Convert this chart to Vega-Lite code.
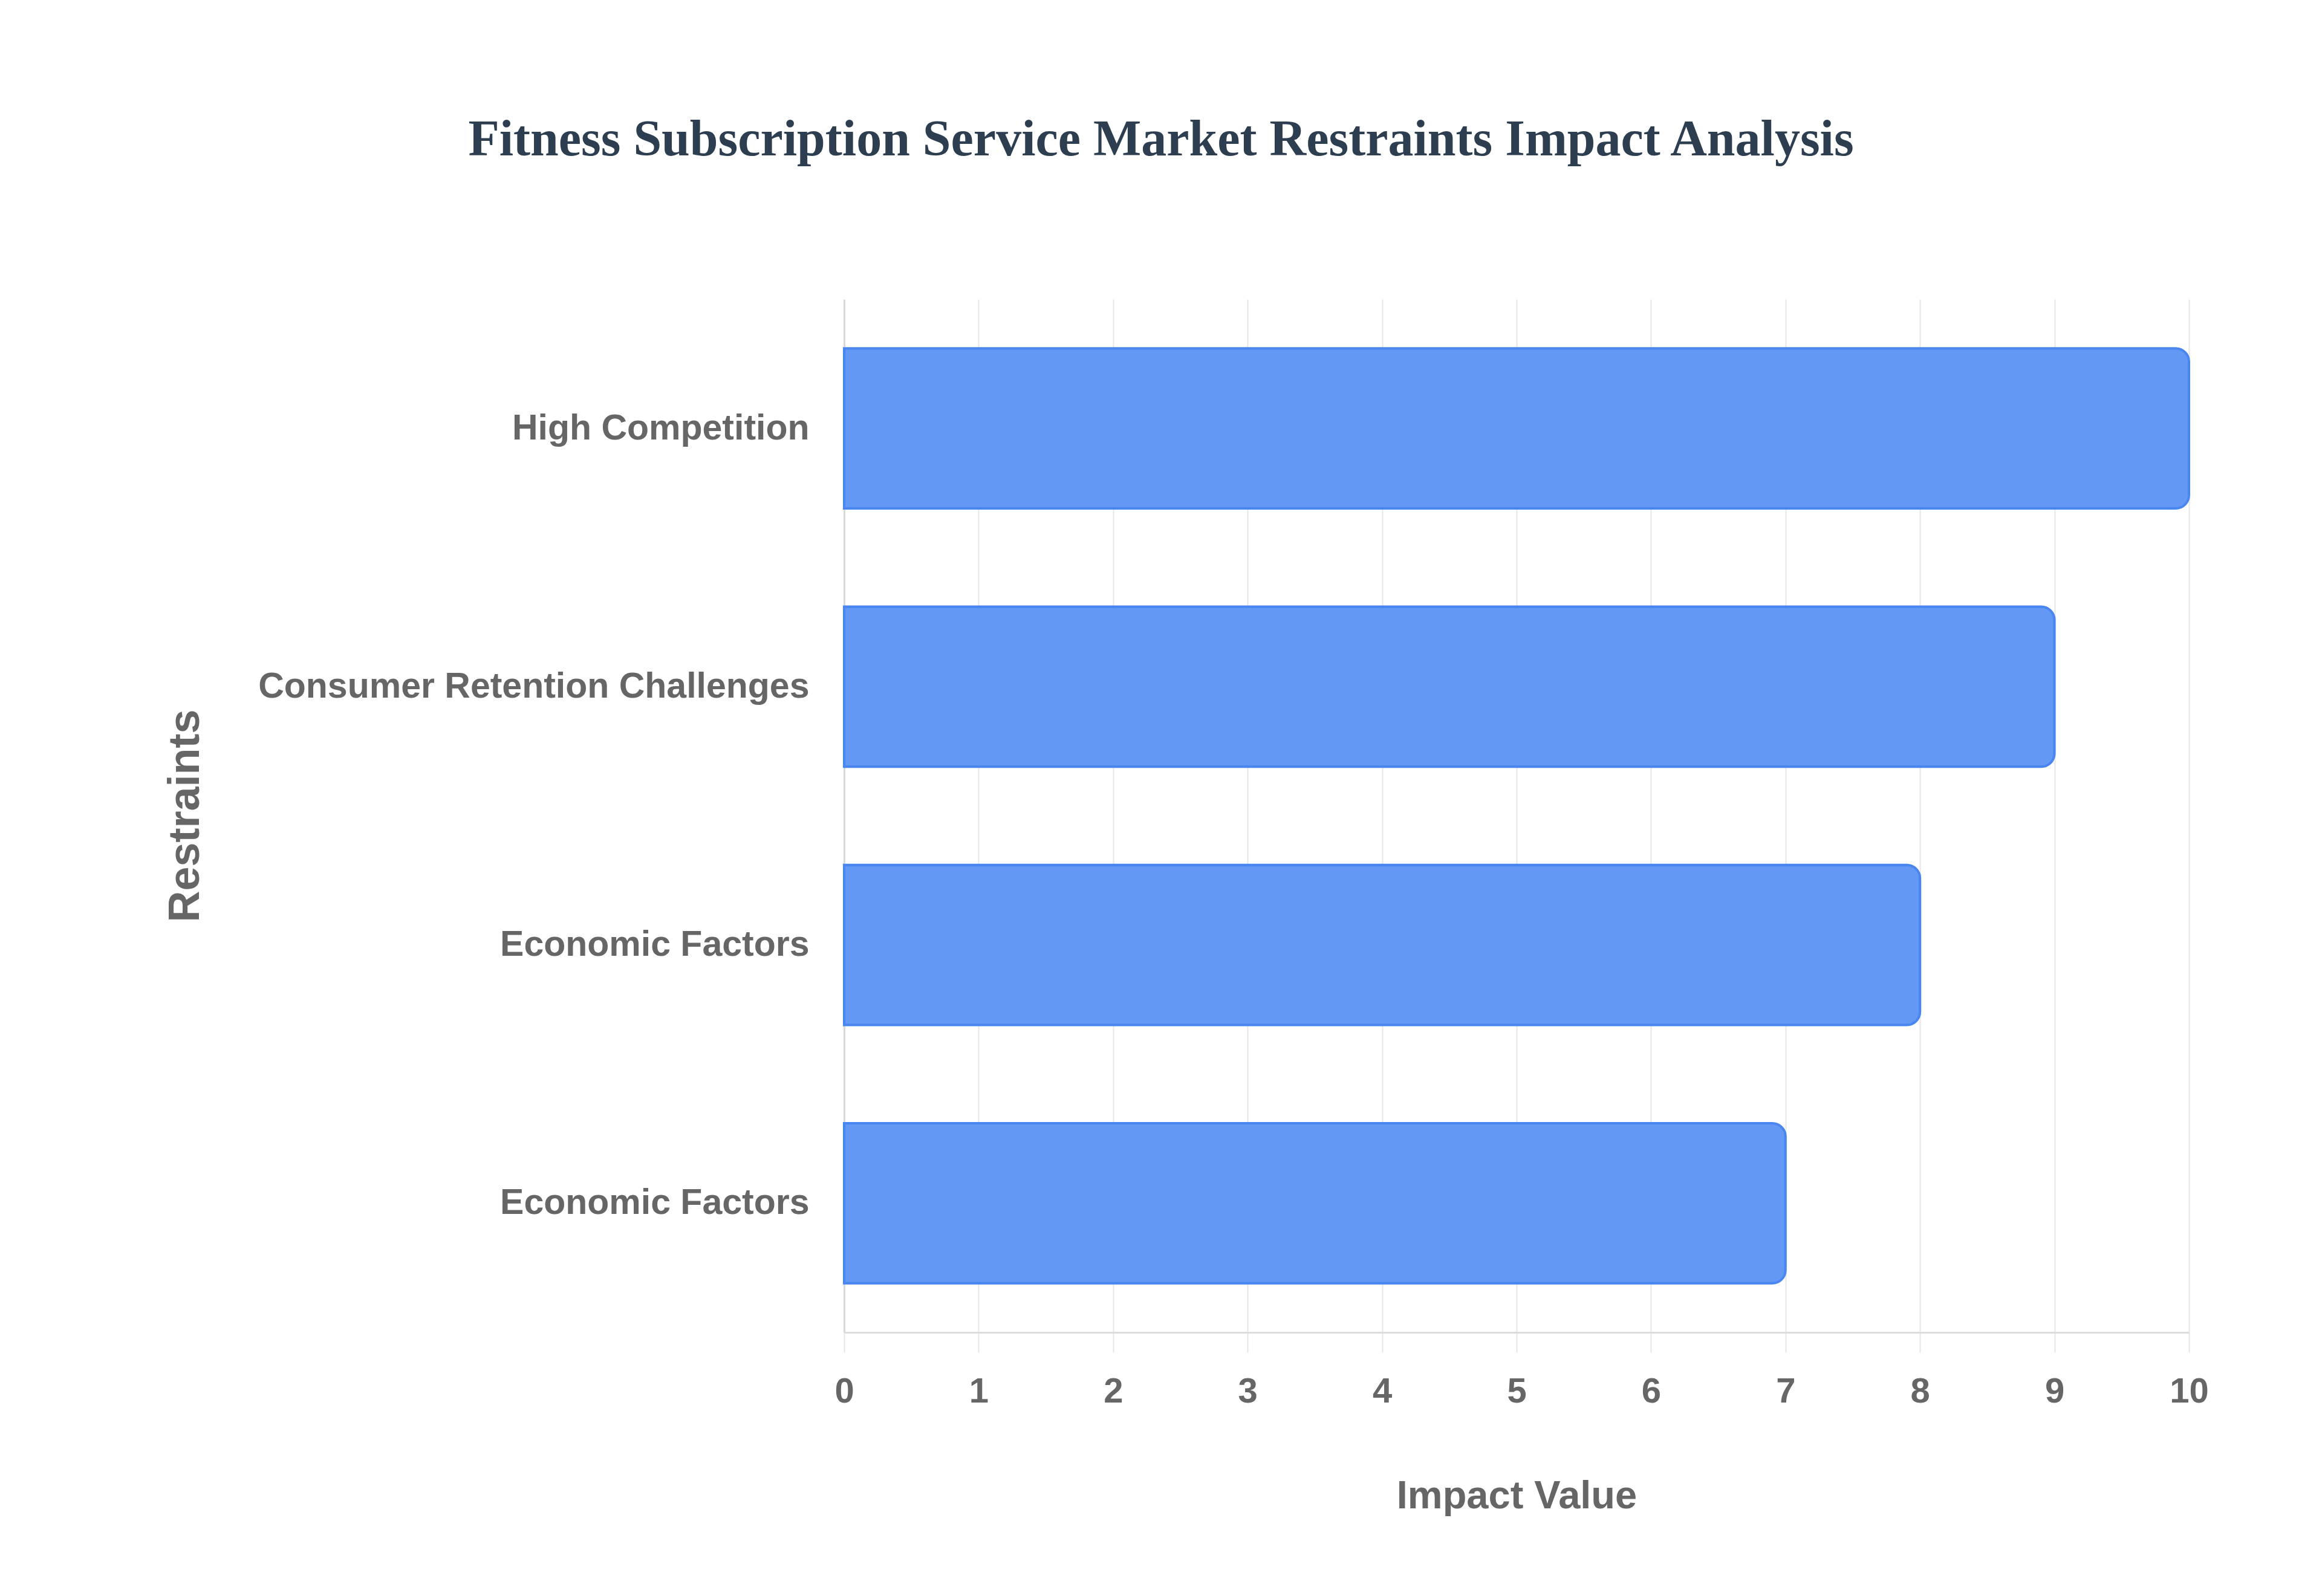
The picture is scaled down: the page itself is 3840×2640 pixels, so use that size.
{
  "$schema": "https://vega.github.io/schema/vega-lite/v6.json",
  "width": 2224,
  "height": 1709,
  "autosize": {"type": "none"},
  "padding": {"left": 1396, "top": 495, "right": 220, "bottom": 436},
  "background": "white",
  "title": {
    "text": "Fitness Subscription Service Market Restraints Impact Analysis",
    "font": "Liberation Serif",
    "fontWeight": "bold",
    "fontSize": 84,
    "color": "#2c3e50",
    "anchor": "middle",
    "dx": -588,
    "offset": 220
  },
  "data": {
    "values": [
      {"restraint": "High Competition", "impact": 10},
      {"restraint": "Consumer Retention Challenges", "impact": 9},
      {"restraint": "Economic Factors", "impact": 8},
      {"restraint": "Economic Factors ", "impact": 7}
    ]
  },
  "mark": {
    "type": "bar",
    "fill": "#6399f5",
    "stroke": "#4a86f0",
    "strokeWidth": 4,
    "cornerRadiusEnd": 22
  },
  "encoding": {
    "y": {
      "field": "restraint",
      "type": "nominal",
      "sort": {"field": "impact", "order": "descending"},
      "scale": {"paddingInner": 0.38, "paddingOuter": 0.19},
      "axis": {
        "title": "Restraints",
        "titleFont": "Liberation Sans",
        "titleFontWeight": "bold",
        "titleFontSize": 72,
        "titleColor": "#666666",
        "titleX": -1090,
        "titleY": 854,
        "titleAngle": -90,
        "titleAlign": "center",
        "titleBaseline": "middle",
        "labelFont": "Liberation Sans",
        "labelFontWeight": "bold",
        "labelFontSize": 59,
        "labelLimit": 2000,
        "labelColor": "#666666",
        "labelPadding": 58,
        "ticks": false,
        "domain": true,
        "domainColor": "#d9d9d9",
        "domainWidth": 3,
        "grid": false
      }
    },
    "x": {
      "field": "impact",
      "type": "quantitative",
      "scale": {"domain": [0, 10], "nice": false},
      "axis": {
        "title": "Impact Value",
        "titleFont": "Liberation Sans",
        "titleFontWeight": "bold",
        "titleFontSize": 65,
        "titleColor": "#666666",
        "titlePadding": 112,
        "labelFont": "Liberation Sans",
        "labelFontWeight": "bold",
        "labelFontSize": 58,
        "labelColor": "#666666",
        "labelPadding": 36,
        "labelFlush": false,
        "labelOverlap": false,
        "values": [0, 1, 2, 3, 4, 5, 6, 7, 8, 9, 10],
        "ticks": true,
        "tickSize": 33,
        "tickColor": "#e6e6e6",
        "tickWidth": 2,
        "domain": true,
        "domainColor": "#dddddd",
        "domainWidth": 3,
        "grid": true,
        "gridColor": "#e6e6e6",
        "gridWidth": 2
      }
    }
  },
  "config": {"view": {"stroke": null}}
}
